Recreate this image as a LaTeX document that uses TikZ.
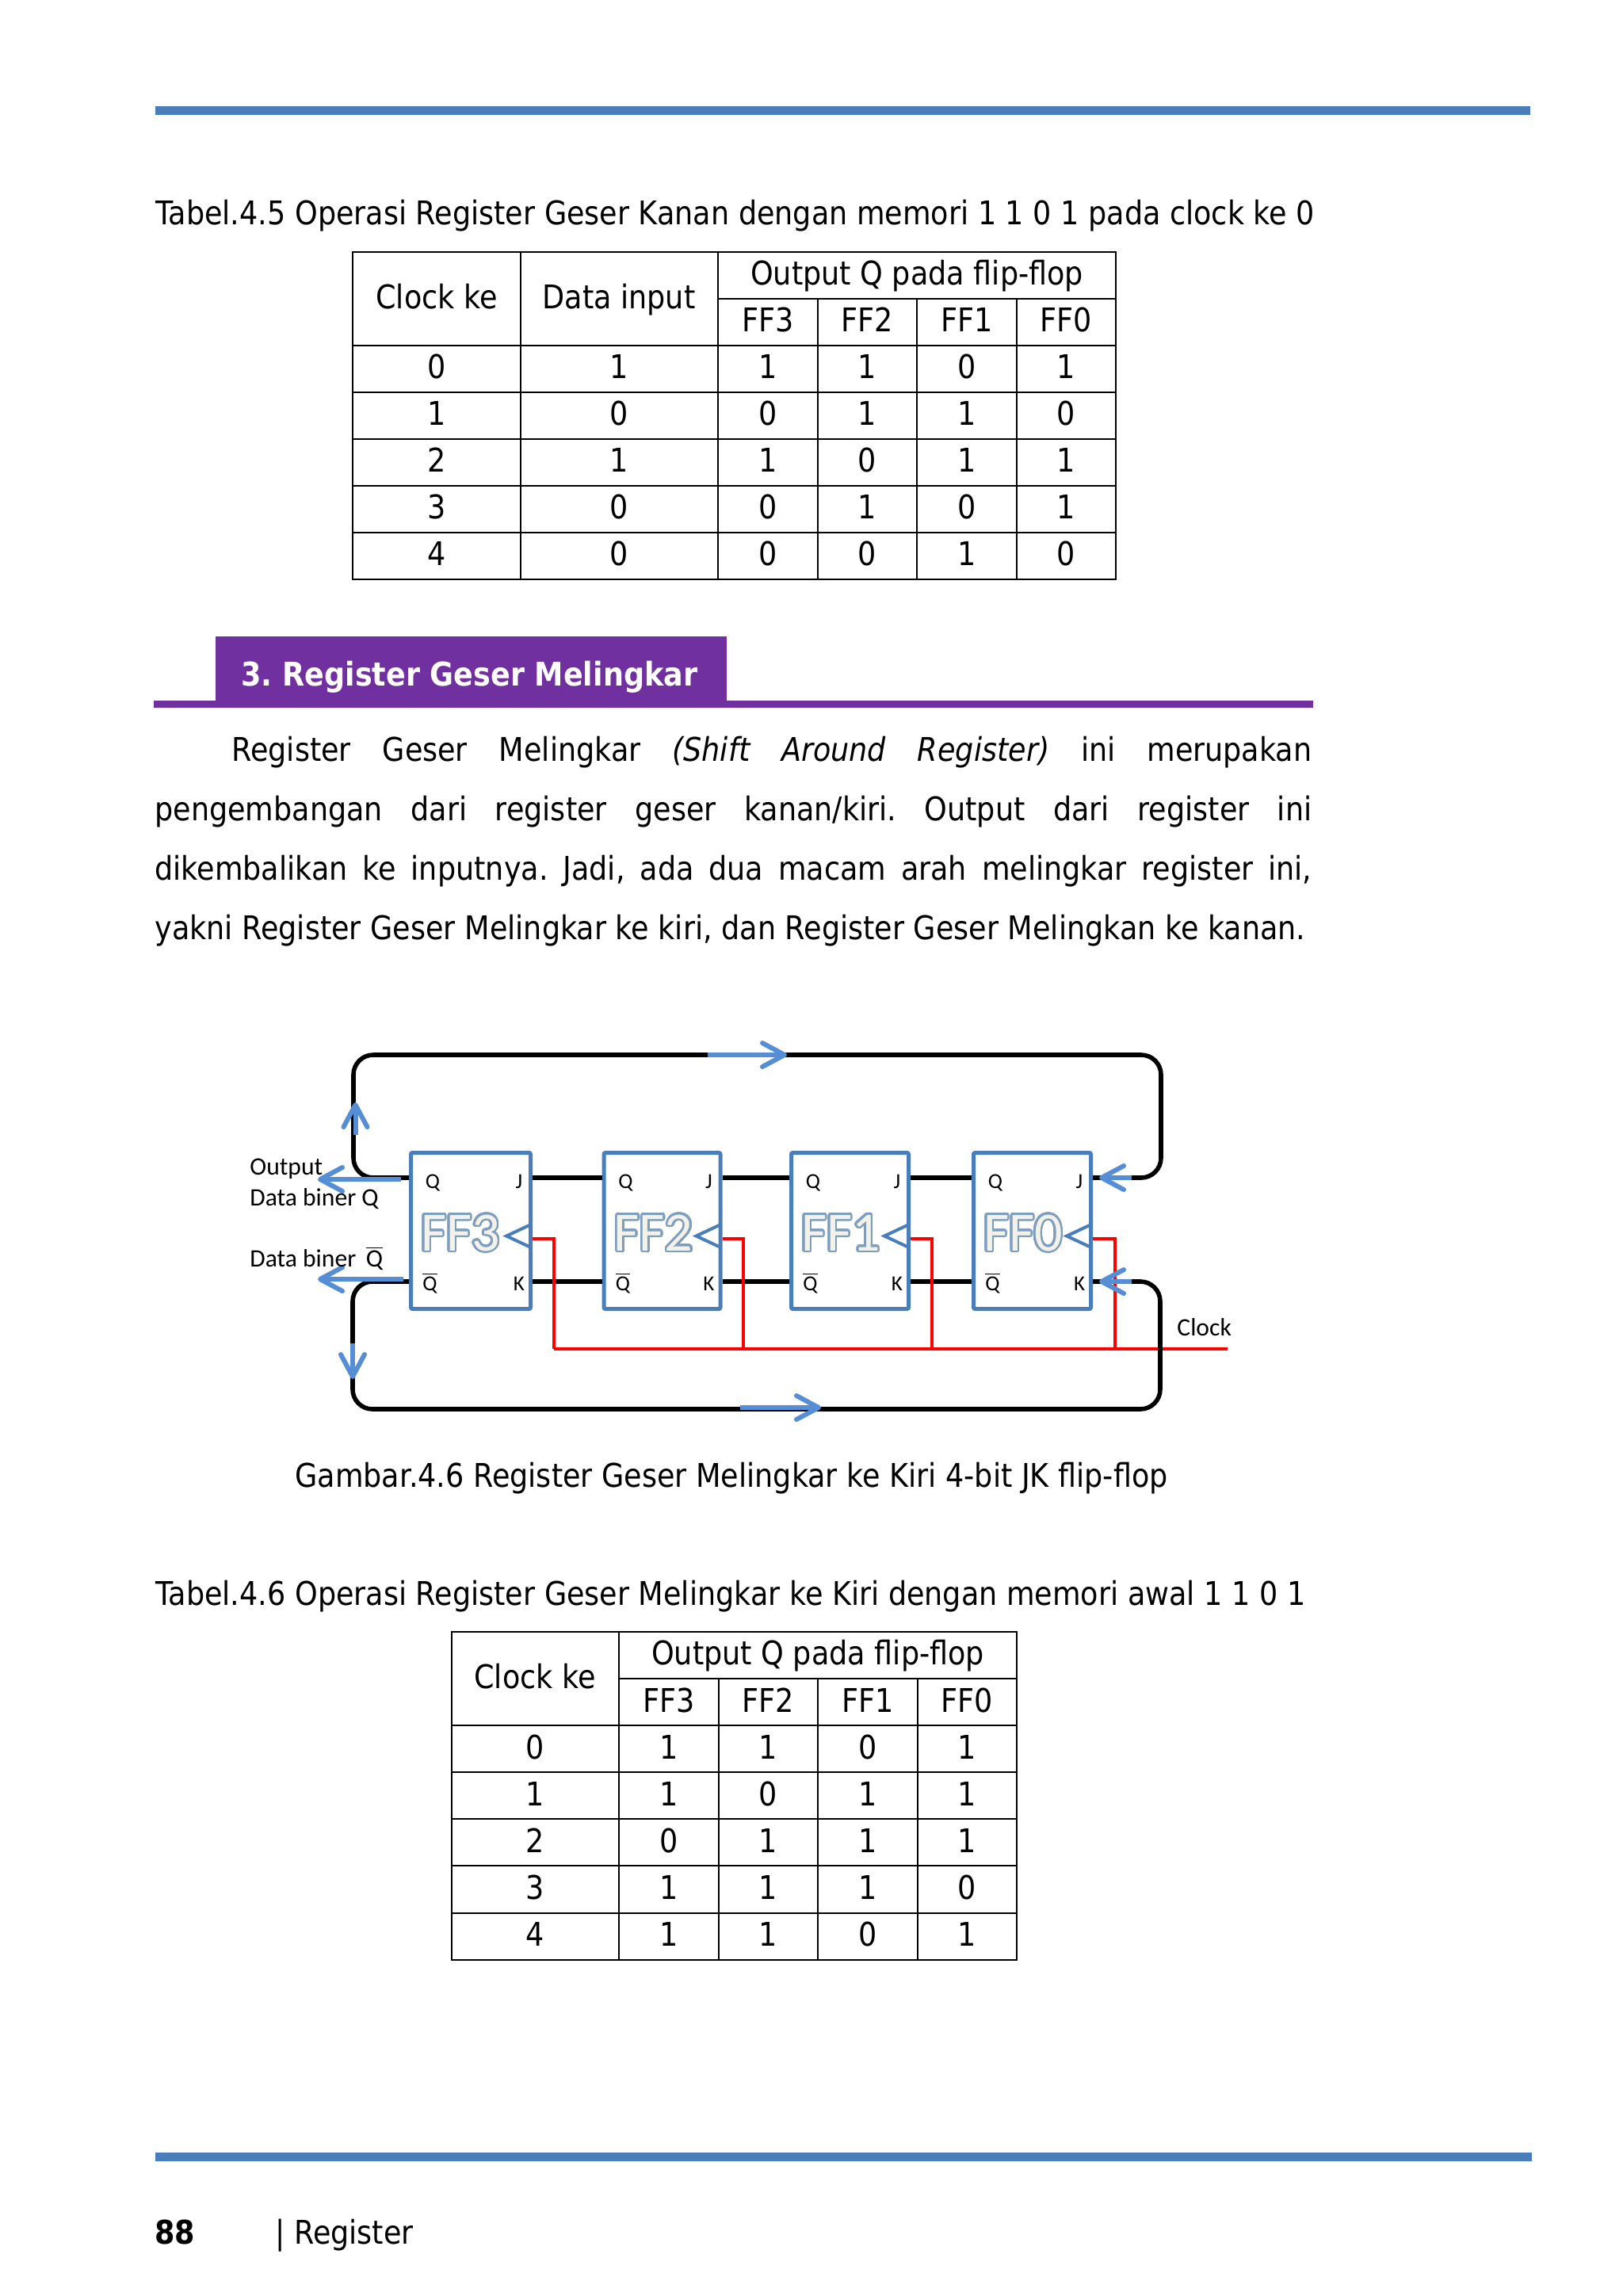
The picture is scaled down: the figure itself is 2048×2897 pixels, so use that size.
\documentclass[tikz,border=0pt]{standalone}
\usepackage{fontspec}
\usepackage{contour}
\usetikzlibrary{arrows.meta,calc,positioning}
\setmainfont{DejaVu Sans}[FakeStretch=0.887]
\newfontfamily\calibrifont{Carlito}
\frenchspacing
\definecolor{Bar}{HTML}{4A7EBB}
\definecolor{Tab}{HTML}{7030A0}
\definecolor{Flow}{HTML}{558ED5}
\definecolor{Pale}{HTML}{F2F2EA}
\definecolor{Edge}{HTML}{7F9DBD}
\definecolor{Clk}{HTML}{FF0000}
\contourlength{1.3pt}
\contournumber{32}
\tikzset{
  txt/.style={anchor=base west,inner sep=0pt,font=\fontsize{20.6}{25}\selectfont},
  cell/.style={anchor=base,inner sep=0pt,font=\fontsize{20.6}{25}\selectfont},
  grid/.style={line width=1pt,line cap=rect},
  ffbox/.style={draw=Bar,line width=2.5pt,fill=white,minimum height=98.5pt,rounded corners=1pt},
  pin/.style={anchor=base,inner sep=0pt,font=\calibrifont\fontsize{13.5}{16}\selectfont},
  note/.style={anchor=base west,inner sep=0pt,font=\calibrifont\fontsize{15.8}{18}\selectfont},
  ffname/.style={anchor=base,inner sep=0pt,text=Pale,font=\calibrifont\fontsize{35}{40}\selectfont},
  wire/.style={line width=2.8pt},
  loopwire/.style={wire,rounded corners=12.5pt},
  clockwire/.style={draw=Clk,line width=2pt},
  flow/.style={draw=Flow,line width=3pt,-{Straight Barb[length=14pt,width=15pt,round]}},
}
\begin{document}
\begin{tikzpicture}[x=.5pt,y=-.5pt]
  \path[use as bounding box,fill=white] (0,0) rectangle (2048,2897);
  % page furniture
  \fill[Bar] (196,134) rectangle (1931,145);
  \fill[Bar] (196,2716) rectangle (1933,2727);
  \node[txt] (cap5) at (196,283) {Tabel.4.5 Operasi Register Geser Kanan dengan memori 1 1 0 1 pada clock ke 0};
  \node[txt] (cap46) at (372,1876) {Gambar.4.6 Register Geser Melingkar ke Kiri 4-bit JK flip-flop};
  \node[txt] (cap6) at (196,2025) {Tabel.4.6 Operasi Register Geser Melingkar ke Kiri dengan memori awal 1 1 0 1};
  \node[txt,font=\bfseries\fontsize{20.6}{25}\selectfont] (page) at (195,2831) {88};
  \node[txt] (foot) at (347,2831) {| Register};
  % first table
  \foreach \y in {318,436,494.5,554,613,672,731} \draw[grid] (445,\y) -- (1408,\y);
  \draw[grid] (906,377) -- (1408,377);
  \foreach \x in {445,656.5,906,1408} \draw[grid] (\x,318) -- (\x,731);
  \foreach \x in {1032,1157,1283} \draw[grid] (\x,377) -- (\x,731);
  \node[cell] (ah1) at (551,389) {Clock ke};
  \node[cell] (ah2) at (781,389) {Data input};
  \node[cell] (ah3) at (1157,359) {Output Q pada flip-flop};
  \foreach \n/\x in {3/969,2/1094.5,1/1220,0/1345.5} \node[cell] (af\n) at (\x,418) {FF\n};
  \foreach \r/\y/\vals in {0/477/{0,1,1,1,0,1},1/536/{1,0,0,1,1,0},2/595/{2,1,1,0,1,1},3/654/{3,0,0,1,0,1},4/713/{4,0,0,0,1,0}}
    \foreach \v [count=\c] in \vals {
      \pgfmathsetmacro\cx{{551,781,969,1094.5,1220,1345.5}[\c-1]}
      \node[cell] (a\r\c) at (\cx,\y) {\v};
    }
  % section head and text
  \fill[Tab] (272,803) rectangle (917,884);
  \fill[Tab] (194,884) rectangle (1657,893);
  \node[txt,text=white,font=\bfseries\fontsize{20.6}{25}\selectfont] (head) at (304,865) {3. Register Geser Melingkar};
  \node[anchor=north west,inner sep=0pt,text width=730pt,align=justify,font=\fontsize{20.6}{37.5}\selectfont] (para) at (195,929)
    {\hspace*{48.5pt}Register Geser Melingkar \textit{(Shift Around Register)} ini merupakan\linebreak
     pengembangan dari register geser kanan/kiri. Output dari register ini\linebreak
     dikembalikan ke inputnya. Jadi, ada dua macam arah melingkar register ini,\linebreak
     yakni Register Geser Melingkar ke kiri, dan Register Geser Melingkan ke kanan.};
  % flip-flops
  \foreach \n/\cx/\w in {3/594/151,2/835.5/147,1/1072.5/148,0/1302.5/148}{
    \node[ffbox,minimum width=\w*.5pt] (ff\n) at (\cx,1553) {};
    \coordinate (q\n) at ($(ff\n.north west)+(0,34)$);
    \coordinate (qb\n) at ($(ff\n.north west)+(0,165)$);
    \coordinate (j\n) at ($(ff\n.north east)+(0,34)$);
    \coordinate (k\n) at ($(ff\n.north east)+(0,165)$);
    \coordinate (ck\n) at ($(ff\n.north east)+(0,111)$);
    \draw[draw=Bar,line width=2pt] ($(ff\n.north east)+(-2,93)$) -- ($(ff\n.north east)+(-33,107.5)$) -- ($(ff\n.north east)+(-2,122)$);
    \node[pin] (lq\n) at ($(ff\n.north west)+(30,47)$) {Q};
    \node[pin] (lj\n) at ($(ff\n.north east)+(-17,47)$) {J};
    \node[pin] (lb\n) at ($(ff\n.north west)+(26.5,176)$) {$\overline{\mbox{Q}}$};
    \node[pin] (lk\n) at ($(ff\n.north east)+(-17,176)$) {K};
    \node[ffname] (nm\n) at ($(ff\n.north west)+(65,126)$) {\contour{Edge}{FF\n}};
  }
  % wires between the flip-flops
  \foreach \a/\b in {3/2,2/1,1/0}{
    \draw[wire] (j\a) -- (q\b);
    \draw[wire] (k\a) -- (qb\b);
  }
  % clock
  \coordinate (clkend) at (1549,1702);
  \foreach \n/\x in {3/698.5,2/938,1/1176,0/1407}{
    \coordinate (cj\n) at (\x,1702);
    \draw[clockwire] (ck\n) -| (cj\n);
  }
  \draw[clockwire] (cj3) -- (clkend);
  \node[note] (clk) at (1485,1685) {Clock};
  % feedback loops
  \coordinate (tl) at (446,1331);
  \coordinate (tr) at (1465,1331);
  \coordinate (bl) at (445,1778);
  \coordinate (br) at (1464,1778);
  \draw[loopwire] (q3) -- (q3 -| tl) -- (tl) -- (tr) -- (tr |- j0) -- (j0);
  \draw[loopwire] (qb3) -- (qb3 -| bl) -- (bl) -- (br) -- (br |- k0) -- (k0);
  % flow arrows
  \foreach \nm/\ax/\ay/\bx/\by in {top/893/1331/993/1331,up/448.5/1432/448.5/1391,qo/505.5/1488/401/1488,bo/509/1614/401/1614,dn/445/1695/445/1740,bot/934/1776/1036/1776,ji/1428/1486/1387/1486,ki/1428/1617/1387/1617}{
    \coordinate (\nm a) at (\ax,\ay);
    \coordinate (\nm b) at (\bx,\by);
    \draw[flow] (\nm a) -- (\nm b);
  }
  \node[note] (out) at (315,1482) {Output};
  \node[note] (dq) at (315,1521) {Data biner Q};
  \node[note] (dqb) at (315,1598) {Data biner\, $\overline{\mbox{Q}}$};
  % second table
  \foreach \y in {2059,2177,2236,2295,2354,2414,2473} \draw[grid] (570,\y) -- (1283,\y);
  \draw[grid] (781,2118) -- (1283,2118);
  \foreach \x in {570,781,1283} \draw[grid] (\x,2059) -- (\x,2473);
  \foreach \x in {907,1032,1158} \draw[grid] (\x,2118) -- (\x,2473);
  \node[cell] (bh1) at (675,2130) {Clock ke};
  \node[cell] (bh2) at (1032,2100) {Output Q pada flip-flop};
  \foreach \n/\x in {3/844,2/969.5,1/1095,0/1220.5} \node[cell] (bf\n) at (\x,2160) {FF\n};
  \foreach \r/\y/\vals in {0/2219/{0,1,1,0,1},1/2278/{1,1,0,1,1},2/2337/{2,0,1,1,1},3/2396/{3,1,1,1,0},4/2455/{4,1,1,0,1}}
    \foreach \v [count=\c] in \vals {
      \pgfmathsetmacro\cx{{675.5,844,969.5,1095,1220.5}[\c-1]}
      \node[cell] (b\r\c) at (\cx,\y) {\v};
    }
\end{tikzpicture}
\end{document}
